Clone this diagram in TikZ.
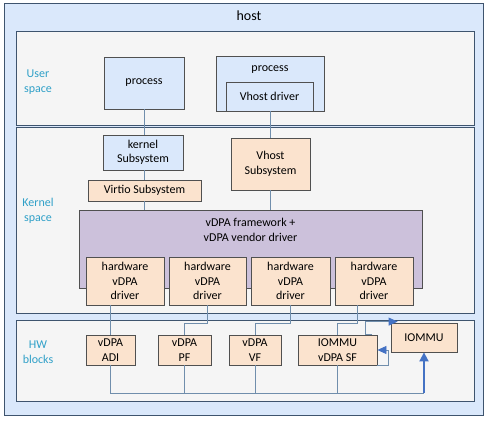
\documentclass[tikz,border=0pt]{standalone}
\usepackage{fontspec}
\setmainfont{Carlito}
\usepackage{tikz}
\usetikzlibrary{arrows.meta}

\definecolor{hostblue}{RGB}{218,232,251}
\definecolor{spacegray}{RGB}{245,245,245}
\definecolor{frameline}{RGB}{62,84,110}
\definecolor{boxline}{RGB}{80,80,80}
\definecolor{peach}{RGB}{251,227,206}
\definecolor{lilac}{RGB}{204,193,219}
\definecolor{teal}{RGB}{48,160,200}
\definecolor{wirecol}{RGB}{112,142,172}
\definecolor{arrowblue}{RGB}{68,114,196}

\begin{document}
\begin{tikzpicture}[x=1pt,y=-1pt,
    font=\fontsize{12}{14.5}\selectfont,
    spacebox/.style={draw=frameline,fill=spacegray,line width=0.8pt},
    bluebox/.style={draw=boxline,fill=hostblue,line width=0.8pt,inner sep=0pt,align=center},
    orangebox/.style={draw=boxline,fill=peach,line width=0.8pt,inner sep=0pt,align=center},
    spacelabel/.style={text=teal,align=center},
    wire/.style={draw=wirecol,line width=0.8pt},
    bigarrow/.style={draw=arrowblue,line width=1.8pt,-{Triangle[length=9pt,width=9pt]}},
    backarrow/.style={draw=wirecol,line width=0.8pt,-{Triangle[length=9pt,width=8pt,color=arrowblue]}}]
    \useasboundingbox (0,0) rectangle (488,421);

    % host
    \draw[draw=frameline,fill=hostblue,line width=0.8pt] (4,3) rectangle (483,415);
    \node (host) at (249,16) {\fontsize{14}{16}\selectfont host};

    % User space / Kernel space / HW blocks
    \draw[spacebox] (16,31) rectangle (474,125);
    \draw[spacebox] (16,127) rectangle (474,313);
    \draw[spacebox] (16,320) rectangle (474,401);
    \node[spacelabel] (userlbl) at (38,82) {User\\space};
    \node[spacelabel] (kernlbl) at (38,211) {Kernel\\space};
    \node[spacelabel] (hwlbl) at (38,352) {HW\\blocks};

    % procesos
    \node[bluebox,minimum width=80pt,minimum height=52pt] (proc1) at (144,83) {process};
    \node[bluebox,minimum width=108pt,minimum height=55pt] (proc2) at (270,83.5) {};
    \node (proc2txt) at (270,70) {process};
    \node[bluebox,minimum width=87pt,minimum height=29pt] (vhostdrv) at (269.5,96.5) {Vhost driver};

    % subsistemas del kernel
    \node[bluebox,minimum width=80pt,minimum height=35pt] (ksub) at (143,152.5) {kernel\\Subsystem};
    \node[orangebox,minimum width=79pt,minimum height=52pt] (vhostsub) at (270.5,164) {Vhost\\Subsystem};
    \node[orangebox,minimum width=113pt,minimum height=21pt] (virtio) at (144.5,190.5) {Virtio Subsystem};
    \node[draw=boxline,fill=lilac,line width=0.8pt,minimum width=343pt,minimum height=78pt] (fw) at (250.5,249) {};
    \node[align=center] (fwtxt) at (250.5,230) {vDPA framework +\\vDPA vendor driver};
    \node[orangebox,minimum width=78pt,minimum height=48pt] (drv1) at (125,281) {hardware\\vDPA\\driver};
    \node[orangebox,minimum width=77pt,minimum height=48pt] (drv2) at (207.5,281) {hardware\\vDPA\\driver};
    \node[orangebox,minimum width=79pt,minimum height=48pt] (drv3) at (290.5,281) {hardware\\vDPA\\driver};
    \node[orangebox,minimum width=78pt,minimum height=48pt] (drv4) at (374,281) {hardware\\vDPA\\driver};

    % bloques HW
    \node[orangebox,minimum width=49pt,minimum height=30pt] (adi) at (110.5,350) {vDPA\\ADI};
    \node[orangebox,minimum width=53pt,minimum height=30pt] (pf) at (184.5,350) {vDPA\\PF};
    \node[orangebox,minimum width=52pt,minimum height=30pt] (vf) at (255,350) {vDPA\\VF};
    \node[orangebox,minimum width=79pt,minimum height=30pt] (sf) at (337.5,350) {IOMMU\\vDPA SF};
    \node[orangebox,minimum width=66pt,minimum height=29pt] (iommu) at (424,337.5) {IOMMU};

    % conexiones
    \draw[wire] (proc1.south) -- (proc1.south |- ksub.north);
    \draw[wire] (ksub.south -| proc1) -- (proc1 |- virtio.north);
    \draw[wire] (virtio.south -| proc1) -- (proc1 |- fw.north);
    \draw[wire] (proc2.south) -- (proc2 |- vhostsub.north);
    \draw[wire] (vhostsub.south) -- (vhostsub |- fw.north);
    \draw[wire] (drv1.south -| adi) -- (adi.north);
    \draw[wire] (drv2.south) -- ++(0,18) -| (pf.north);
    \draw[wire] (drv3.south) -- ++(0,18) -| (vf.north);
    \draw[wire] ([xshift=-17pt]drv4.south) -- ++(0,18) -| (sf.north);

    % bus hacia el IOMMU
    \coordinate (busend) at (424,393);
    \draw[wire] (adi.south) |- (busend);
    \draw[wire] (pf.south) -- (pf.south |- busend);
    \draw[wire] (vf.south) -- (vf.south |- busend);
    \draw[wire] (sf.south) -- (sf.south |- busend);
    \draw[bigarrow] (busend) -- (iommu.south);
    \draw[backarrow] ([xshift=-5pt]sf.north east) -- ++(-7,0) |- ([xshift=7pt,yshift=1pt]iommu.north west);
    \draw[backarrow] (sf.south east) -- ++(11,0) |- (sf.east);
\end{tikzpicture}
\end{document}
